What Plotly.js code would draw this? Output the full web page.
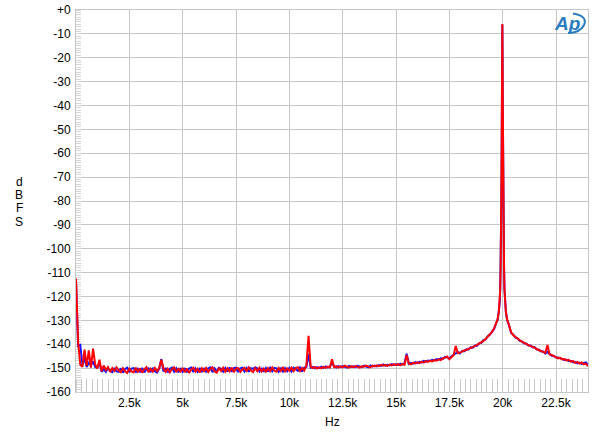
<!DOCTYPE html>
<html>
<head>
<meta charset="utf-8">
<script src="https://cdn.plot.ly/plotly-3.0.1.min.js"></script>
<style>
  html, body { margin: 0; padding: 0; background: #fff; }
  #chart { width: 600px; height: 439px; }
</style>
</head>
<body>
<div id="chart"></div>
<script>
// ---------- data (dBFS) ----------
const freqStepHz = 100;          // spacing of the low and high grids
const lowStartHz = 0;
const highStartHz = 20500;

const redLow = [
  -112.5,-139,-148.5,-149.5,-142.3,-149,-142.6,-149.8,-141.8,-148.5,
  -150.2,-146.5,-151.3,-148.9,-150.8,-149.6,-151.6,-150,-151.2,-149.7,
  -150.9,-151.7,-150,-151.3,-152,-150.2,-151.4,-151.8,-149.8,-151.5,
  -150.1,-151.9,-150.5,-149.6,-151.7,-150.3,-151.5,-149.9,-151.3,-150,
  -146.5,-150.1,-151.6,-150.2,-151.8,-150.4,-149.7,-151.6,-150.3,-151.4,
  -149.9,-151.7,-150.2,-152,-150.6,-149.8,-151.5,-150.3,-151.8,-150.1,
  -151.2,-149.9,-151.6,-150.3,-149.6,-151.4,-151.9,-150.1,-151.2,-149.8,
  -151.5,-150.1,-151.3,-149.8,-151.7,-150.2,-150,-151.6,-150.5,-149.9,
  -151.2,-149.7,-151,-151.6,-150,-151.3,-149.8,-151.4,-150.2,-151.5,
  -150,-151.3,-149.7,-151.1,-151.5,-149.9,-151.2,-149.8,-151.4,-150.1,
  -151.1,-149.8,-151.3,-150,-149.6,-151.2,-149.9,-151,-148.8,-136.5,
  -149.3,-150,-149.6,-150.2,-149.7,-150.1,-149.5,-149.9,-149.4,-149.8,
  -146.3,-149.6,-149.2,-149.8,-149.3,-149.7,-149,-149.5,-149.8,-149.2,
  -149.6,-149.1,-149.5,-149.8,-149.2,-149.4,-148.9,-149.3,-149.7,-149,
  -149.3,-148.8,-149.2,-148.6,-149,-148.7,-149.1,-148.5,-148.9,-148.4,
  -148.7,-148.3,-148.8,-148.2,-148.6,-144.5,-148.1,-148.4,-147.8,-148,
  -147.6,-147.9,-147.3,-147.7,-147.1,-147.4,-146.9,-147.2,-146.6,-146.9,
  -146.3,-146.6,-145.9,-145.6,-145.1,-146.3,-145.2,-144.6,-140.7,-143.8,
  -143.5,-143,-142.6,-142.4,-141.9,-141.6,-141.1,-140.8,-140.3,-139.9,
  -139.2,-138.6,-137.8,-136.9,-135.8
];
const blueLow = [
  -113.8,-140.8,-140.3,-148.8,-146,-149.5,-147.8,-148.9,-147.2,-149.6,
  -149.8,-147.5,-151.5,-150.5,-151.6,-149.9,-151.2,-151.7,-149.9,-151.4,
  -151.6,-150.1,-151.9,-150.4,-149.8,-151.7,-150.2,-150,-151.8,-150.3,
  -151.5,-149.9,-151.8,-150.5,-150.1,-151.7,-149.9,-151.3,-151.9,-150.2,
  -146.2,-151.4,-149.9,-151.8,-150.3,-149.8,-151.5,-150.1,-151.8,-150,
  -151.5,-150,-151.7,-150.2,-149.8,-151.6,-150.1,-151.5,-149.9,-151.6,
  -150,-151.5,-150.1,-149.7,-151.7,-150.1,-151.4,-149.9,-150.3,-151.5,
  -149.9,-151.4,-149.7,-151.5,-150,-149.8,-151.6,-150.1,-149.8,-151.4,
  -149.9,-151.5,-150,-150.3,-149.7,-150.1,-151.4,-149.9,-151.5,-149.9,
  -151.4,-149.8,-151.3,-149.9,-150.1,-151.5,-149.8,-151.4,-150,-151.3,
  -149.9,-151.4,-149.8,-150.3,-151.1,-149.7,-151.4,-149.8,-149.5,-144,
  -149.8,-149.5,-150.1,-149.6,-150,-149.4,-149.9,-149.3,-149.7,-149.5,
  -147.5,-149.3,-149.8,-149.2,-149.6,-149.1,-149.5,-149.8,-149.1,-149.5,
  -149.2,-149.6,-149,-149.4,-149.6,-149,-149.3,-149.7,-148.9,-149.3,
  -148.9,-149.3,-148.7,-149.1,-148.5,-149,-148.6,-148.9,-148.3,-148.7,
  -148.4,-148.7,-148.1,-148.5,-147.9,-144,-148.3,-147.8,-148.1,-147.5,
  -147.9,-147.4,-147.6,-147,-147.3,-146.8,-147,-146.5,-146.8,-146.2,
  -146.5,-145.9,-146.1,-145.3,-145.5,-146,-145,-144.4,-143.5,-143.2,
  -143.8,-142.8,-142.9,-142.1,-142.2,-141.3,-141.4,-140.5,-140.6,-139.6,
  -139.4,-138.3,-138,-136.6,-136
];

// 20 kHz tone region (irregular frequencies)
const peakFreq = [19500,19600,19700,19760,19820,19860,19885,19905,19925,19940,19953,19964,19975,19981,
                  19985,19989,19995,20006,20017,20030,20045,20065,20085,20110,20150,20210,20280,20400];
const redPeak  = [-134.8,-133.3,-131.3,-129.6,-126.5,-122.5,-117,-108,-95,-80,-60,-40,-20,-12,
                  -5.9,-12,-20,-40,-60,-80,-95,-108,-117,-122.5,-126.5,-129.6,-131.8,-135];
const bluePeak = [-134.5,-133.6,-131,-129.9,-126.3,-122.7,-117.2,-108.3,-95.3,-80.3,-60.3,-40.3,-20.3,-12.3,
                  -6.2,-12.3,-20.3,-40.3,-60.3,-80.3,-95.3,-108.3,-117.2,-122.7,-126.3,-129.9,-131.5,-135.3];

const redHigh = [
  -136.2,-137,-137.8,-138.3,-139,-139.3,-139.9,-140.2,-140.8,-141,
  -141.6,-141.9,-142.5,-142.8,-143.2,-143.6,-140.3,-144.3,-144.5,-145.1,
  -145.4,-145.9,-145.7,-146.4,-146.2,-146.8,-146.5,-147.3,-147,-147.8,
  -147.4,-148.1,-147.6,-148.4,-148.1,-149.2
];
const blueHigh = [
  -136,-137.2,-137.5,-138.6,-138.8,-139.6,-139.7,-140.5,-140.5,-141.3,
  -141.3,-142.2,-142.3,-143,-143,-143.9,-143.2,-144.1,-144.8,-144.9,
  -145.6,-145.6,-146,-146.1,-146.6,-146.5,-147,-147,-147.5,-147.4,
  -148,-147.7,-148.2,-147.8,-147.6,-148.6
];

const xTickVals = [2500,5000,7500,10000,12500,15000,17500,20000,22500];
const xTickText = ['2.5k','5k','7.5k','10k','12.5k','15k','17.5k','20k','22.5k'];
const yTickVals = [0,-10,-20,-30,-40,-50,-60,-70,-80,-90,-100,-110,-120,-130,-140,-150,-160];
const yTickText = ['+0','-10','-20','-30','-40','-50','-60','-70','-80','-90','-100','-110','-120','-130','-140','-150','-160'];

// ---------- build ----------
const lowFreq = redLow.map((_, i) => lowStartHz + i * freqStepHz);
const highFreq = redHigh.map((_, i) => highStartHz + i * freqStepHz);
const xs = lowFreq.concat(peakFreq, highFreq);
const redY = redLow.concat(redPeak, redHigh);
const blueY = blueLow.concat(bluePeak, blueHigh);

const FONT = 'Liberation Sans, Arial, sans-serif';
const GRID = '#c6c6c6';

const traces = [
  { x: xs, y: blueY, type: 'scatter', mode: 'lines', line: { color: '#1515ff', width: 2 }, hoverinfo: 'skip' },
  { x: xs, y: redY, type: 'scatter', mode: 'lines', line: { color: '#ff0000', width: 2 }, hoverinfo: 'skip' }
];

const L = 76, R = 588, T = 10, B = 392;
const px = v => (v - L) / (R - L);
const py = v => (B - v) / (B - T);

const logoPath = 'M ' + px(573) + ' ' + py(13.5) +
  ' Q ' + px(588) + ' ' + py(16) + ' ' + px(584) + ' ' + py(25) +
  ' Q ' + px(580) + ' ' + py(33) + ' ' + px(568) + ' ' + py(33);

const layout = {
  width: 600, height: 439,
  margin: { l: L, r: 600 - R, t: T, b: 439 - B },
  paper_bgcolor: '#fff', plot_bgcolor: '#fff',
  showlegend: false,
  font: { family: FONT, size: 12, color: '#000' },
  xaxis: {
    range: [0, 24000], fixedrange: true, layer: 'below traces',
    tickmode: 'array', tickvals: xTickVals, ticktext: xTickText,
    ticks: '', showgrid: true, gridcolor: GRID, gridwidth: 1,
    zeroline: false, showline: true, mirror: true, linecolor: GRID, linewidth: 1,
    tickfont: { family: FONT, size: 12, color: '#000' },
    ticklabelstandoff: 0,
    minor: { tickmode: 'linear', tick0: 0, dtick: 250, ticks: 'inside', ticklen: 13, tickcolor: '#c8c8c8', tickwidth: 1, showgrid: false }
  },
  yaxis: {
    range: [-160, 0], fixedrange: true, layer: 'below traces',
    tickmode: 'array', tickvals: yTickVals, ticktext: yTickText,
    ticks: '', showgrid: true, gridcolor: GRID, gridwidth: 1,
    zeroline: false, showline: true, mirror: true, linecolor: GRID, linewidth: 1,
    tickfont: { family: FONT, size: 12, color: '#000' },
    ticklabelstandoff: 2,
    minor: { tickmode: 'linear', tick0: 0, dtick: 1, ticks: 'inside', ticklen: 5, tickcolor: '#d6d6d6', tickwidth: 1, showgrid: false }
  },
  annotations: [
    { xref: 'paper', yref: 'paper', x: px(332), y: py(422), text: 'Hz', showarrow: false, xanchor: 'center', yanchor: 'middle', font: { family: FONT, size: 12, color: '#000' } },
    { xref: 'paper', yref: 'paper', x: px(19), y: py(181.7), text: 'd', showarrow: false, xanchor: 'center', yanchor: 'middle', font: { family: FONT, size: 12, color: '#000' } },
    { xref: 'paper', yref: 'paper', x: px(19), y: py(194.5), text: 'B', showarrow: false, xanchor: 'center', yanchor: 'middle', font: { family: FONT, size: 12, color: '#000' } },
    { xref: 'paper', yref: 'paper', x: px(19), y: py(208), text: 'F', showarrow: false, xanchor: 'center', yanchor: 'middle', font: { family: FONT, size: 12, color: '#000' } },
    { xref: 'paper', yref: 'paper', x: px(19), y: py(222), text: 'S', showarrow: false, xanchor: 'center', yanchor: 'middle', font: { family: FONT, size: 12, color: '#000' } },
    { xref: 'paper', yref: 'paper', x: px(567), y: py(23), text: '<b><i>Ap</i></b>', showarrow: false, xanchor: 'center', yanchor: 'middle', font: { family: FONT, size: 19, color: '#2a7cc0' } }
  ],
  shapes: [
    { type: 'path', xref: 'paper', yref: 'paper', path: logoPath, line: { color: '#2a7cc0', width: 2 } }
  ]
};

Plotly.newPlot('chart', traces, layout, { staticPlot: true, displayModeBar: false });
</script>
</body>
</html>
